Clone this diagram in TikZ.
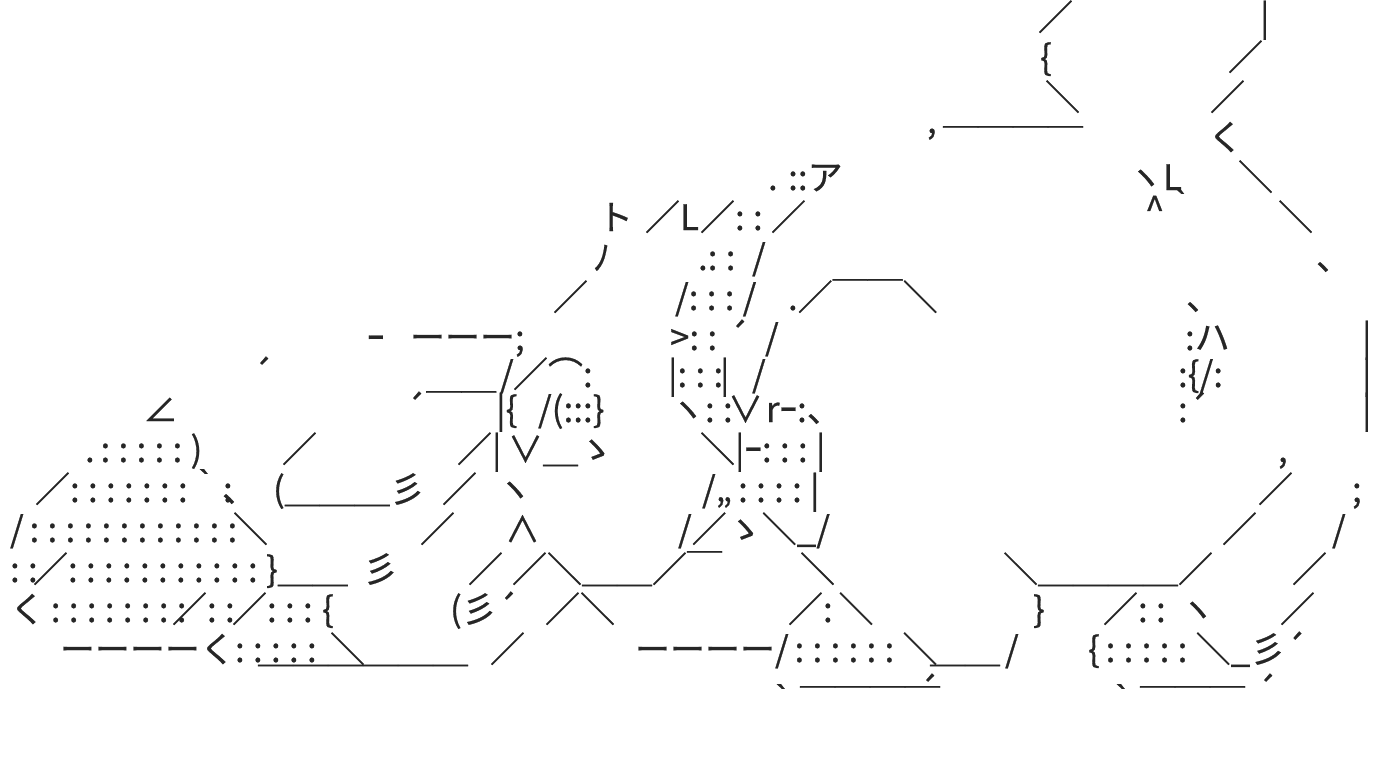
\documentclass[tikz,border=0pt]{standalone}
\usepackage{fontspec}
\setmainfont{Noto Sans CJK JP}[FakeBold=0.6]
\newcounter{aan}
\newcommand\dt{\makebox[18pt][l]{:}}
\tikzset{aa/.style={anchor=base west,inner sep=0pt,outer sep=0pt,text=black!85,font=\fontsize{35}{40}\selectfont}}
\newcommand\AAt[3]{\stepcounter{aan}\node[aa] (t\arabic{aan}) at (#1,#2+12) {#3};}
\begin{document}
\begin{tikzpicture}[x=1pt,y=-1pt]
\fill[white] (0,0) rectangle (1373,780);
\useasboundingbox (0,0) rectangle (1373,780);
\AAt{1038}{18}{／}\AAt{1260}{18}{|}
\AAt{1040}{58}{\{}\AAt{1228}{58}{／}
\AAt{1045}{98}{＼}\AAt{1210}{98}{／}
\AAt{927}{121}{,}\AAt{943}{145}{￣￣￣￣}\AAt{1208}{138}{く}
\AAt{768}{178}{. ::ア}\AAt{1128}{178}{ヽL}\AAt{1238}{178}{＼}
\AAt{598}{218}{ト}\AAt{645}{218}{／L}\AAt{700}{218}{／\dt\dt／}
\AAt{1145}{210}{\textasciicircum ｀}\AAt{1278}{218}{＼}
\AAt{593}{258}{ﾉ}\AAt{698}{258}{.\dt\dt}\AAt{752}{258}{/}\AAt{1316}{258}{、}
\AAt{553}{298}{／}\AAt{675}{298}{/\dt\dt\dt/}\AAt{788}{298}{.／￣￣＼}\AAt{1186}{298}{、}
\AAt{367}{338}{ｰ}\AAt{410}{338}{ーーー;}\AAt{670}{338}{>\dt\dt}\AAt{728}{338}{´}\AAt{765}{338}{/}
\AAt{1185}{338}{:ハ}\AAt{1362}{338}{|}
\AAt{252}{375}{´}\AAt{500}{375}{/}\AAt{513}{375}{／⌒:}\AAt{668}{375}{|\dt\dt\dt}\AAt{720}{375}{|}\AAt{752}{375}{/}
\AAt{1178}{375}{:\{/:}\AAt{1362}{375}{|}
\AAt{143}{410}{∠}\AAt{405}{410}{´￣￣|\{}\AAt{538}{410}{/(:::\}}
\AAt{670}{410}{ヽ\dt\dt}\AAt{728}{410}{∨}\AAt{766}{410}{rｰ:、}\AAt{1178}{410}{:´}\AAt{1362}{410}{|}
\AAt{85}{450}{.\,\dt\dt\dt\dt\dt)}\AAt{282}{450}{／}\AAt{457}{450}{／|}\AAt{508}{450}{∨＿ゝ}
\AAt{700}{450}{＼|ｰ\dt\dt\dt|}\AAt{1278}{450}{,}
\AAt{35}{490}{／\dt\dt\dt\dt\dt\dt\dt}\AAt{188}{490}{｀:}\AAt{222}{490}{、}\AAt{273}{490}{(＿＿＿彡}\AAt{442}{490}{／}\AAt{497}{490}{ヽ}
\AAt{702}{490}{/,,\,\dt\dt\dt\dt|}\AAt{1258}{490}{／}\AAt{1352}{490}{;}
\AAt{10}{530}{/\,\dt\dt\dt\dt\dt\dt\dt\dt\dt\dt\dt\dt}\AAt{233}{530}{＼}\AAt{420}{530}{／}\AAt{505}{530}{∧}
\AAt{678}{530}{/／ゝ＼\_/}\AAt{1222}{530}{／}\AAt{1332}{530}{/}
\AAt{10}{570}{\dt\dt}\AAt{33}{570}{／\dt\dt\dt\dt\dt\dt\dt\dt\dt\dt\dt}\AAt{266}{570}{\}＿＿}\AAt{363}{570}{彡}
\AAt{468}{570}{／}\AAt{512}{570}{／＼＿＿／￣}\AAt{800}{570}{＼}\AAt{1003}{570}{＼＿＿＿＿／}\AAt{1292}{570}{／}
\AAt{10}{610}{く\,\dt\dt\dt\dt\dt\dt\dt\dt}\AAt{172}{610}{／\dt\dt}\AAt{232}{610}{／\dt\dt\dt}\AAt{322}{610}{\{}\AAt{450}{610}{(彡´}\AAt{545}{610}{／＼}
\AAt{788}{610}{／:\,＼}\AAt{1033}{610}{\}}\AAt{1103}{610}{／\dt\dt\,ヽ}\AAt{1280}{610}{／}
\AAt{60}{650}{ーーーーく\dt\dt\dt\dt\dt}\AAt{330}{650}{＼}\AAt{258}{650}{＿＿＿＿＿＿}\AAt{490}{650}{／}
\AAt{635}{650}{ーーーー/\,\dt\dt\dt\dt\dt\dt＼}\AAt{1005}{650}{/}\AAt{1088}{650}{\{\,\dt\dt\dt\dt\dt＼\_彡´}
\AAt{930}{650}{＿＿}\AAt{765}{705}{｀￣￣￣￣}\AAt{918}{692}{´}\AAt{1105}{705}{｀￣￣￣}\AAt{1256}{692}{´}
\end{tikzpicture}
\end{document}
